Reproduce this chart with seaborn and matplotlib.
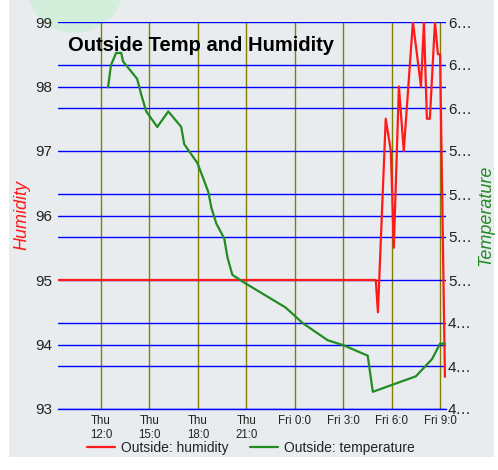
import matplotlib
matplotlib.use("Agg")
import matplotlib.pyplot as plt
import matplotlib.dates as mdates
from matplotlib.patches import Rectangle, Ellipse
from matplotlib.ticker import FixedLocator, FuncFormatter
import numpy as np
import pandas as pd
import seaborn as sns

# values
hum_times = ["Thu 09:20", "Fri 05:01", "Fri 05:09", "Fri 05:38", "Fri 05:57", "Fri 06:08",
             "Fri 06:27", "Fri 06:45", "Fri 07:19", "Fri 07:49", "Fri 08:00", "Fri 08:11",
             "Fri 08:22", "Fri 08:41", "Fri 08:52", "Fri 09:00", "Fri 09:18"]
hum_vals = [95, 95, 94.5, 97.5, 97, 95.5, 98, 97, 99, 98, 99, 97.5, 97.5, 99, 98.5, 98.5, 93.5]

temp_times = ["Thu 12:26", "Thu 12:37", "Thu 12:56", "Thu 13:15", "Thu 13:22", "Thu 14:14",
              "Thu 14:29", "Thu 14:48", "Thu 15:29", "Thu 16:10", "Thu 16:58", "Thu 17:09",
              "Thu 17:58", "Thu 18:20", "Thu 18:39", "Thu 18:50", "Thu 19:08", "Thu 19:38",
              "Thu 19:50", "Thu 20:08", "Thu 20:57", "Thu 23:26", "Fri 00:29", "Fri 02:02",
              "Fri 03:02", "Fri 04:31", "Fri 04:50", "Fri 07:30", "Fri 08:30", "Fri 09:00",
              "Fri 09:18"]
temp_vals = [6.12, 6.25, 6.32, 6.32, 6.27, 6.17, 6.08, 5.98, 5.89, 5.98, 5.89, 5.79,
             5.68, 5.59, 5.51, 5.42, 5.33, 5.24, 5.13, 5.03, 4.98, 4.84, 4.75, 4.65,
             4.62, 4.56, 4.35, 4.44, 4.54, 4.63, 4.63]

x_tick_times = ["Thu 12:00", "Thu 15:00", "Thu 18:00", "Thu 21:00",
                "Fri 00:00", "Fri 03:00", "Fri 06:00", "Fri 09:00"]
x_tick_labels = ["Thu\n12:0", "Thu\n15:0", "Thu\n18:0", "Thu\n21:0",
                 "Fri 0:0", "Fri 3:0", "Fri 6:0", "Fri 9:0"]
x_range = ["Thu 09:20", "Fri 09:22"]
hum_ticks = [93, 94, 95, 96, 97, 98, 99]
temp_ticks = [4.25, 4.5, 4.75, 5.0, 5.25, 5.5, 5.75, 6.0, 6.25, 6.5]

DAYS = {"Thu": "2024-01-04", "Fri": "2024-01-05"}


def to_time(s):
    day, hm = s.split()
    return pd.Timestamp(DAYS[day] + " " + hm)


hum_df = pd.DataFrame({"time": [to_time(t) for t in hum_times], "humidity": hum_vals})
temp_df = pd.DataFrame({"time": [to_time(t) for t in temp_times], "temperature": temp_vals})

sns.set_theme(style="white")
plt.rcParams["font.family"] = ["Liberation Sans", "DejaVu Sans"]

BLUE = "#0000ff"
OLIVE = "#808000"
BG = "#e8ecef"

fig = plt.figure(figsize=(4.98, 4.70), dpi=100)
fig.patch.set_facecolor("white")
fig.patches.append(Rectangle((9 / 498, 13 / 470), 485 / 498, 457 / 470,
                             transform=fig.transFigure, facecolor=BG, edgecolor="none", zorder=-3))
fig.patches.append(Ellipse((75 / 498, 1 + 16 / 470), 98 / 498, 98 / 470,
                           transform=fig.transFigure, facecolor="#d3eedb", edgecolor="none", zorder=-2))

ax = fig.add_axes([58 / 498, 61 / 470, 388 / 498, 387 / 470])
ax.set_facecolor("none")
ax2 = ax.twinx()

sns.lineplot(data=hum_df, x="time", y="humidity", ax=ax, color="#ff1a1a",
             linewidth=1.6, label="Outside: humidity", zorder=3)
sns.lineplot(data=temp_df, x="time", y="temperature", ax=ax2, color="#228b22",
             linewidth=1.6, label="Outside: temperature", zorder=3)

ax.set_xlim(to_time(x_range[0]), to_time(x_range[1]))
ax.set_ylim(hum_ticks[0], hum_ticks[-1])
ax2.set_ylim(temp_ticks[0], temp_ticks[-1])

# x axis: 3-hour labels, hourly small ticks
ax.set_xticks([mdates.date2num(to_time(t)) for t in x_tick_times])
ax.set_xticklabels(x_tick_labels, linespacing=1.3)
ax.xaxis.set_minor_locator(mdates.HourLocator())
ax.tick_params(axis="x", which="major", length=0, pad=4, labelsize=8.3, labelcolor="#222222")
ax.tick_params(axis="x", which="minor", direction="in", length=4, width=1, color=OLIVE)
ax.grid(axis="x", which="major", color=OLIVE, linewidth=1)

# left axis
ax.set_yticks(hum_ticks)
ax.tick_params(axis="y", which="both", length=0, pad=4, labelsize=11, labelcolor="#222222")
ax.grid(axis="y", which="major", color=BLUE, linewidth=1)

# right axis ticks, their grid lines drawn on the left axes so they sit under the lines
ax2.set_yticks(temp_ticks)
ax2.yaxis.set_major_formatter(FuncFormatter(lambda v, p: f"{v:g}"[0] + "\u2026"))
ax2.tick_params(axis="y", length=0, pad=1.5, labelsize=11, labelcolor="#222222")
ax2.grid(False)
right_in_left = [ax.transData.inverted().transform(ax2.transData.transform((0, t)))[1]
                 for t in temp_ticks]
ax.yaxis.set_minor_locator(FixedLocator(right_in_left))
ax.grid(axis="y", which="minor", color=BLUE, linewidth=1)
ax.set_axisbelow(True)

for a in (ax, ax2):
    for side in ("left", "right", "top", "bottom"):
        a.spines[side].set_visible(False)
ax.spines["bottom"].set_visible(True)
ax.spines["bottom"].set_color(BLUE)
ax.spines["bottom"].set_linewidth(1)

ax.set_xlabel("")
ax.set_ylabel("Humidity", color="#ff1a1a", fontsize=13, style="italic")
ax.yaxis.set_label_coords(-0.072, 0.5)
ax2.set_ylabel("Temperature", color="#228b22", fontsize=13, style="italic")
ax2.yaxis.set_label_coords(1.08, 0.5)

ax.text(0.026, 0.94, "Outside Temp and Humidity", transform=ax.transAxes,
        fontsize=14.5, fontweight="bold", color="black", va="center", ha="left", zorder=5)

h1, l1 = ax.get_legend_handles_labels()
h2, l2 = ax2.get_legend_handles_labels()
ax.get_legend().remove()
ax2.get_legend().remove()
fig.legend(h1 + h2, l1 + l2, loc="center", bbox_to_anchor=(0.504, 0.047), ncol=2,
           frameon=False, fontsize=10, handlelength=2.0, handletextpad=0.4,
           columnspacing=1.6, labelcolor="#222222")

fig.savefig("out.png", dpi=100)
